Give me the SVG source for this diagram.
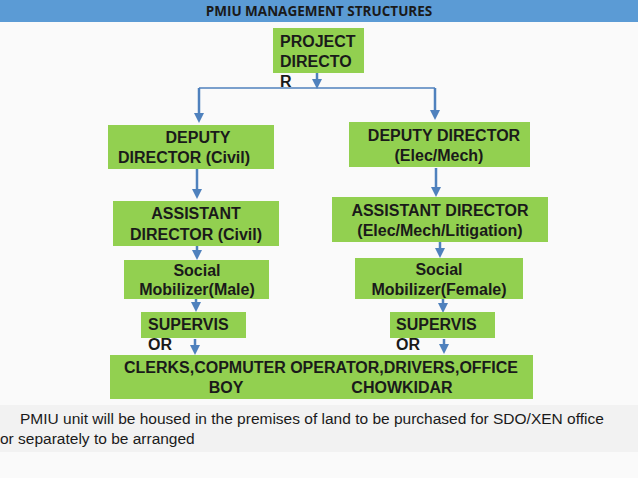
<svg xmlns="http://www.w3.org/2000/svg" width="638" height="478" viewBox="0 0 638 478">
<style>
.b{fill:#92d050}
.t{font-family:"Liberation Sans",Arial,sans-serif;font-weight:bold;font-size:16px;fill:#1a1a1a}
.c{stroke:#4f81bd;stroke-width:2.5;fill:none}
.h{stroke:#4f81bd;stroke-width:1.5;fill:none}
</style>
<defs><marker id="a" markerWidth="4" markerHeight="4" refX="2" refY="2" orient="auto" markerUnits="strokeWidth"><path d="M0,0L4,2L0,4z" fill="#4f81bd"/></marker></defs>
<rect width="638" height="478" fill="#fafafa"/>
<rect width="638" height="22" fill="#5b9bd5"/>
<text x="319" y="16" text-anchor="middle" style="font-family:'Open Sans',sans-serif;font-weight:bold;font-size:13.5px;fill:#1a1a1a">PMIU MANAGEMENT STRUCTURES</text>
<g id="connectors">
<path class="c" d="M317,73V84" marker-end="url(#a)"/>
<path class="h" d="M199,88H435"/>
<path class="c" d="M199,88V118" marker-end="url(#a)"/>
<path class="c" d="M435,88V115" marker-end="url(#a)"/>
<path class="c" d="M197,169V194" marker-end="url(#a)"/>
<path class="c" d="M436,168V192" marker-end="url(#a)"/>
<path class="c" d="M197,246V255" marker-end="url(#a)"/>
<path class="c" d="M440,242V253" marker-end="url(#a)"/>
<path class="c" d="M196,299V307" marker-end="url(#a)"/>
<path class="c" d="M443,299V308" marker-end="url(#a)"/>
<path class="c" d="M195,339V350" marker-end="url(#a)"/>
<path class="c" d="M444,339V349" marker-end="url(#a)"/>
</g>
<g id="pd"><rect class="b" x="273" y="28" width="91" height="45"/><text class="t" x="280" y="47">PROJECT</text><text class="t" x="280" y="67">DIRECTO</text><text class="t" x="280" y="87">R</text></g>
<g id="ddc"><rect class="b" x="108" y="125" width="166" height="44"/><text class="t" x="198" y="143" text-anchor="middle">DEPUTY</text><text class="t" x="184" y="163" text-anchor="middle">DIRECTOR (Civil)</text></g>
<g id="dde"><rect class="b" x="349" y="122" width="181" height="45"/><text class="t" x="444" y="141" text-anchor="middle">DEPUTY DIRECTOR</text><text class="t" x="439" y="161" text-anchor="middle">(Elec/Mech)</text></g>
<g id="adc"><rect class="b" x="113" y="201" width="166" height="45"/><text class="t" x="196" y="219" text-anchor="middle">ASSISTANT</text><text class="t" x="196" y="240" text-anchor="middle">DIRECTOR (Civil)</text></g>
<g id="ade"><rect class="b" x="332" y="197" width="216" height="45"/><text class="t" x="440" y="216" text-anchor="middle">ASSISTANT DIRECTOR</text><text class="t" x="440" y="236" text-anchor="middle">(Elec/Mech/Litigation)</text></g>
<g id="smm"><rect class="b" x="124" y="260" width="145" height="39"/><text class="t" x="197" y="276" text-anchor="middle">Social</text><text class="t" x="197" y="295" text-anchor="middle">Mobilizer(Male)</text></g>
<g id="smf"><rect class="b" x="355" y="258" width="168" height="41"/><text class="t" x="439" y="275" text-anchor="middle">Social</text><text class="t" x="439" y="295" text-anchor="middle">Mobilizer(Female)</text></g>
<g id="supl"><rect class="b" x="141" y="312" width="105" height="26"/><text class="t" x="148" y="330">SUPERVIS</text><text class="t" x="148" y="350">OR</text></g>
<g id="supr"><rect class="b" x="390" y="312" width="105" height="26"/><text class="t" x="396" y="330">SUPERVIS</text><text class="t" x="396" y="350">OR</text></g>
<g id="clerks"><rect class="b" x="110" y="355" width="423" height="44"/><text class="t" x="321" y="373" text-anchor="middle">CLERKS,COPMUTER OPERATOR,DRIVERS,OFFICE</text><text class="t" x="226" y="393" text-anchor="middle">BOY</text><text class="t" x="402" y="393" text-anchor="middle">CHOWKIDAR</text></g>
<rect x="0" y="405" width="638" height="47" fill="#f2f2f2"/>
<text x="20" y="424" style="font-family:'Liberation Sans',Arial,sans-serif;font-size:15.5px;fill:#1a1a1a">PMIU unit will be housed in the premises of land to be purchased for SDO/XEN office</text>
<text x="0" y="444" style="font-family:'Liberation Sans',Arial,sans-serif;font-size:15.5px;fill:#1a1a1a">or separately to be arranged</text>
</svg>
